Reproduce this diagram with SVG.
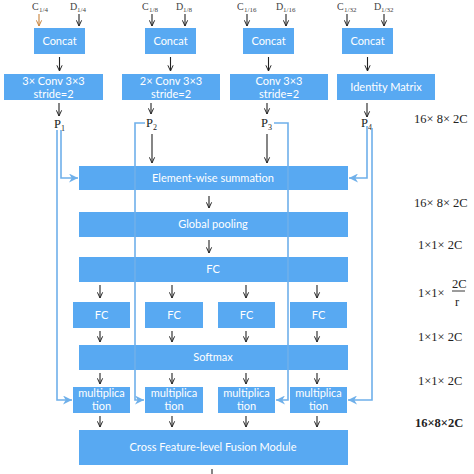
<svg xmlns="http://www.w3.org/2000/svg" width="474" height="474" viewBox="0 0 474 474">
<defs>
<style>
.box{fill:#58a9f2}
.bt{font-family:Lato,"Open Sans",sans-serif;font-size:11px;fill:#ffffff;text-anchor:middle}
.lab{font-family:"Liberation Serif",serif;font-size:12.5px;fill:#222}
.sub{font-family:"Liberation Serif",serif;font-size:8px;fill:#222}
.tl{font-family:"Liberation Serif",serif;font-size:10px;fill:#444}
.ts{font-family:"Liberation Serif",serif;font-size:7px;fill:#444}
.ar{stroke:#222;stroke-width:1.1;fill:none;marker-end:url(#ah)}
.bla{stroke:#6fb0ea;stroke-width:1.6;fill:none;marker-end:url(#bh)}
</style>
<marker id="ah" viewBox="0 0 8 8" refX="7.5" refY="4" markerWidth="7" markerHeight="7" markerUnits="userSpaceOnUse" orient="auto">
<path d="M1,1 L7.5,4 L1,7" stroke="#222" stroke-width="1.1" fill="none"/>
</marker>
<marker id="ahO" viewBox="0 0 8 8" refX="7.5" refY="4" markerWidth="7" markerHeight="7" markerUnits="userSpaceOnUse" orient="auto">
<path d="M1,1 L7.5,4 L1,7" stroke="#c8823a" stroke-width="1.1" fill="none"/>
</marker>
<marker id="bh" viewBox="0 0 10 10" refX="10" refY="5" markerWidth="9" markerHeight="9" markerUnits="userSpaceOnUse" orient="auto">
<path d="M0,0 L10,5 L0,10 L3,5 Z" fill="#6fb0ea"/>
</marker>
</defs>
<rect width="474" height="474" fill="#ffffff"/>

<g id="inputs">
<text class="tl" x="32" y="10">C</text><text class="ts" x="39" y="12">1/4</text>
<text class="tl" x="70" y="10">D</text><text class="ts" x="77" y="12">1/4</text>
<text class="tl" x="142" y="10">C</text><text class="ts" x="149" y="12">1/8</text>
<text class="tl" x="176" y="10">D</text><text class="ts" x="183" y="12">1/8</text>
<text class="tl" x="237" y="10">C</text><text class="ts" x="244" y="12">1/16</text>
<text class="tl" x="276" y="10">D</text><text class="ts" x="283" y="12">1/16</text>
<text class="tl" x="337" y="10">C</text><text class="ts" x="344" y="12">1/32</text>
<text class="tl" x="374" y="10">D</text><text class="ts" x="381" y="12">1/32</text>
</g>

<g id="concat1"><rect class="box" x="34" y="28" width="51" height="26"/><text class="bt" x="59.5" y="45">Concat</text></g>
<g id="concat2"><rect class="box" x="145" y="28" width="51" height="26"/><text class="bt" x="170.5" y="45">Concat</text></g>
<g id="concat3"><rect class="box" x="243" y="28" width="51" height="26"/><text class="bt" x="268.5" y="45">Concat</text></g>
<g id="concat4"><rect class="box" x="342" y="28" width="51" height="26"/><text class="bt" x="367.5" y="45">Concat</text></g>

<g id="conv1"><rect class="box" x="4" y="74" width="99" height="26"/><text class="bt" x="53.5" y="85">3× Conv 3×3</text><text class="bt" x="53.5" y="98">stride=2</text></g>
<g id="conv2"><rect class="box" x="122" y="74" width="98" height="26"/><text class="bt" x="171" y="85">2× Conv 3×3</text><text class="bt" x="171" y="98">stride=2</text></g>
<g id="conv3"><rect class="box" x="230" y="74" width="98" height="26"/><text class="bt" x="279" y="85">Conv 3×3</text><text class="bt" x="279" y="98">stride=2</text></g>
<g id="identity"><rect class="box" x="337" y="74" width="98" height="26"/><text class="bt" x="386" y="91">Identity Matrix</text></g>

<g id="p-labels">
<text class="lab" x="54" y="128">P</text><text class="sub" x="61" y="131">1</text>
<text class="lab" x="146" y="127">P</text><text class="sub" x="153" y="130">2</text>
<text class="lab" x="261" y="127">P</text><text class="sub" x="268" y="130">3</text>
<text class="lab" x="361" y="127">P</text><text class="sub" x="368" y="130">4</text>
</g>

<g id="elementwise"><rect class="box" x="79" y="166" width="269" height="24"/><text class="bt" x="213" y="182">Element-wise summation</text></g>
<g id="globalpool"><rect class="box" x="79" y="212" width="269" height="25"/><text class="bt" x="213" y="228">Global pooling</text></g>
<g id="fc"><rect class="box" x="79" y="257" width="269" height="25"/><text class="bt" x="213" y="273">FC</text></g>
<g id="fc1"><rect class="box" x="73" y="302" width="57" height="26"/><text class="bt" x="101.5" y="319">FC</text></g>
<g id="fc2"><rect class="box" x="145" y="302" width="58" height="26"/><text class="bt" x="174" y="319">FC</text></g>
<g id="fc3"><rect class="box" x="218" y="302" width="57" height="26"/><text class="bt" x="246.5" y="319">FC</text></g>
<g id="fc4"><rect class="box" x="290" y="302" width="57" height="26"/><text class="bt" x="318.5" y="319">FC</text></g>
<g id="softmax"><rect class="box" x="79" y="345" width="269" height="25"/><text class="bt" x="213" y="361">Softmax</text></g>
<g id="mult1"><rect class="box" x="73" y="387" width="57" height="26"/><text class="bt" x="101.5" y="397">multiplica</text><text class="bt" x="101.5" y="410">tion</text></g>
<g id="mult2"><rect class="box" x="145" y="387" width="58" height="26"/><text class="bt" x="174" y="397">multiplica</text><text class="bt" x="174" y="410">tion</text></g>
<g id="mult3"><rect class="box" x="218" y="387" width="57" height="26"/><text class="bt" x="246.5" y="397">multiplica</text><text class="bt" x="246.5" y="410">tion</text></g>
<g id="mult4"><rect class="box" x="290" y="387" width="57" height="26"/><text class="bt" x="318.5" y="397">multiplica</text><text class="bt" x="318.5" y="410">tion</text></g>
<g id="fusion"><rect class="box" x="79" y="430" width="269" height="35"/><text class="bt" x="213" y="451">Cross Feature-level Fusion Module</text></g>

<g id="dims">
<text class="lab" x="414" y="123">16× 8× 2C</text>
<text class="lab" x="414" y="207">16× 8× 2C</text>
<text class="lab" x="418" y="249">1×1× 2C</text>
<text class="lab" x="418" y="297">1×1×</text>
<text class="lab" x="452" y="288">2C</text>
<line x1="452" y1="291" x2="465" y2="291" stroke="#222" stroke-width="0.9"/>
<text class="lab" x="455" y="306">r</text>
<text class="lab" x="418" y="341">1×1× 2C</text>
<text class="lab" x="418" y="385">1×1× 2C</text>
<text class="lab" x="415" y="427" font-weight="bold">16×8×2C</text>
</g>

<g id="connectors">
<line x1="39" y1="14" x2="39" y2="26" stroke="#c8823a" stroke-width="1.1" marker-end="url(#ahO)"/>
<line class="ar" x1="79" y1="14" x2="79" y2="26"/>
<line class="ar" x1="152" y1="14" x2="152" y2="26"/>
<line class="ar" x1="185" y1="14" x2="185" y2="26"/>
<line class="ar" x1="247" y1="14" x2="247" y2="26"/>
<line class="ar" x1="286" y1="14" x2="286" y2="26"/>
<line class="ar" x1="347" y1="14" x2="347" y2="26"/>
<line class="ar" x1="384" y1="14" x2="384" y2="26"/>
<line class="ar" x1="59.5" y1="57" x2="59.5" y2="71"/>
<line class="ar" x1="170.5" y1="57" x2="170.5" y2="71"/>
<line class="ar" x1="268.5" y1="57" x2="268.5" y2="71"/>
<line class="ar" x1="367.5" y1="57" x2="367.5" y2="71"/>
<line class="ar" x1="59" y1="103" x2="59" y2="116"/>
<line class="ar" x1="151" y1="103" x2="151" y2="114"/>
<line class="ar" x1="267" y1="103" x2="267" y2="114"/>
<line class="ar" x1="367" y1="103" x2="367" y2="117"/>
<line class="ar" x1="152" y1="134" x2="152" y2="163"/>
<line class="ar" x1="267" y1="134" x2="267" y2="163"/>
<line class="ar" x1="209" y1="196" x2="209" y2="208"/>
<line class="ar" x1="209" y1="240" x2="209" y2="253"/>
<line class="ar" x1="100" y1="285" x2="100" y2="298"/>
<line class="ar" x1="172" y1="285" x2="172" y2="298"/>
<line class="ar" x1="246" y1="285" x2="246" y2="298"/>
<line class="ar" x1="317" y1="285" x2="317" y2="298"/>
<line class="ar" x1="100" y1="331" x2="100" y2="342"/>
<line class="ar" x1="172" y1="331" x2="172" y2="342"/>
<line class="ar" x1="246" y1="331" x2="246" y2="342"/>
<line class="ar" x1="317" y1="331" x2="317" y2="342"/>
<line class="ar" x1="100" y1="373" x2="100" y2="384"/>
<line class="ar" x1="172" y1="373" x2="172" y2="384"/>
<line class="ar" x1="246" y1="373" x2="246" y2="384"/>
<line class="ar" x1="317" y1="373" x2="317" y2="384"/>
<line class="ar" x1="100" y1="416" x2="100" y2="427"/>
<line class="ar" x1="172" y1="416" x2="172" y2="427"/>
<line class="ar" x1="246" y1="416" x2="246" y2="427"/>
<line class="ar" x1="317" y1="416" x2="317" y2="427"/>
<line x1="212" y1="469" x2="212" y2="474" stroke="#222" stroke-width="1.1"/>
<polyline class="bla" points="61,130 61,178 78,178"/>
<polyline class="bla" points="57,130 57,400 72,400"/>
<polyline class="bla" points="145,123 135,123 135,400 144,400"/>
<polyline class="bla" points="274,123 288,123 288,400 276,400"/>
<polyline class="bla" points="367,126 367,178 349,178"/>
<polyline class="bla" points="372,128 372,400 348,400"/>
</g>
</svg>
